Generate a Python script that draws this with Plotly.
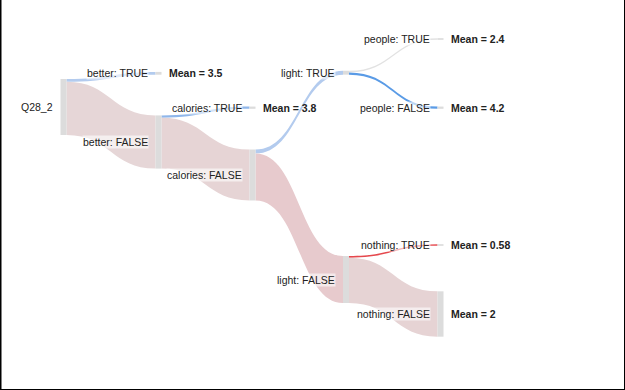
import plotly.graph_objects as go

# ---- data ----
node_names = ["Q28_2", "better: TRUE", "better: FALSE", "calories: TRUE", "calories: FALSE",
              "light: TRUE", "light: FALSE", "people: TRUE", "people: FALSE",
              "nothing: TRUE", "nothing: FALSE"]
leaf_means = {1: "3.5", 3: "3.8", 7: "2.4", 8: "4.2", 9: "0.58", 10: "2"}
link_source = [0, 0, 2, 2, 4, 4, 5, 5, 6, 6]
link_target = [1, 2, 3, 4, 5, 6, 7, 8, 9, 10]
link_value = [5, 95, 4, 91, 7, 84, 3, 4, 3, 81]
link_colors = ["#b3cbee", "#e6d6d7", "#8fb6ea", "#e6d4d5", "#b3cbee", "#e7cacd",
               "#e2e2e2", "#5a9be6", "#e5484d", "#e6d3d4"]

# ---- layout (pixel centres of nodes in a 625x390 canvas) ----
W, H = 625, 390
node_px_x = [63.5, 158.5, 158.5, 252.5, 252.5, 346, 346, 440.5, 440.5, 440.5, 440.5]
node_px_y = [107, 73.3, 142, 107.7, 175, 72.7, 279.5, 39, 107.7, 245, 314]
DOM_H = 160.0          # sankey domain height in px (controls the value scale)
root_px = 56.0         # desired pixel height of the root node
pad = (DOM_H - root_px) / 5

fig = go.Figure(go.Sankey(
    arrangement="fixed",
    domain=dict(x=[0, 1], y=[1 - DOM_H / H, 1]),
    node=dict(
        label=[""] * len(node_names),
        customdata=node_names,
        hovertemplate="%{customdata}<extra></extra>",
        x=[px / W for px in node_px_x],
        y=[py / DOM_H for py in node_px_y],
        color="#dcdcdc",
        line=dict(width=0),
        thickness=6,
        pad=pad,
    ),
    link=dict(source=link_source, target=link_target, value=link_value, color=link_colors),
))

font = dict(family="Liberation Sans, Arial, sans-serif", size=10.5, color="#222")
for i, name in enumerate(node_names):
    fig.add_annotation(x=(node_px_x[i] - 10) / W, y=1 - node_px_y[i] / H, xref="paper", yref="paper",
                       text=name, showarrow=False, xanchor="right", yanchor="middle",
                       font=font, bgcolor="rgba(255,255,255,0.6)", borderpad=0)
    if i in leaf_means:
        fig.add_annotation(x=(node_px_x[i] + 9.5) / W, y=1 - node_px_y[i] / H, xref="paper", yref="paper",
                           text="<b>Mean = %s</b>" % leaf_means[i], showarrow=False,
                           xanchor="left", yanchor="middle", font=font, borderpad=0)

border = dict(color="black", width=2)
fig.add_shape(type="line", xref="paper", yref="paper", x0=0, x1=0, y0=0, y1=1, line=dict(color="black", width=3))
fig.add_shape(type="line", xref="paper", yref="paper", x0=1, x1=1, y0=0, y1=1, line=border)
fig.add_shape(type="line", xref="paper", yref="paper", x0=0, x1=1, y0=0, y1=0, line=border)
fig.update_layout(width=W, height=H, margin=dict(l=0, r=0, t=0, b=0),
                  paper_bgcolor="white", plot_bgcolor="white")
fig.write_html("out.html", config={"displayModeBar": False},
               post_script="document.body.style.margin='0';")
